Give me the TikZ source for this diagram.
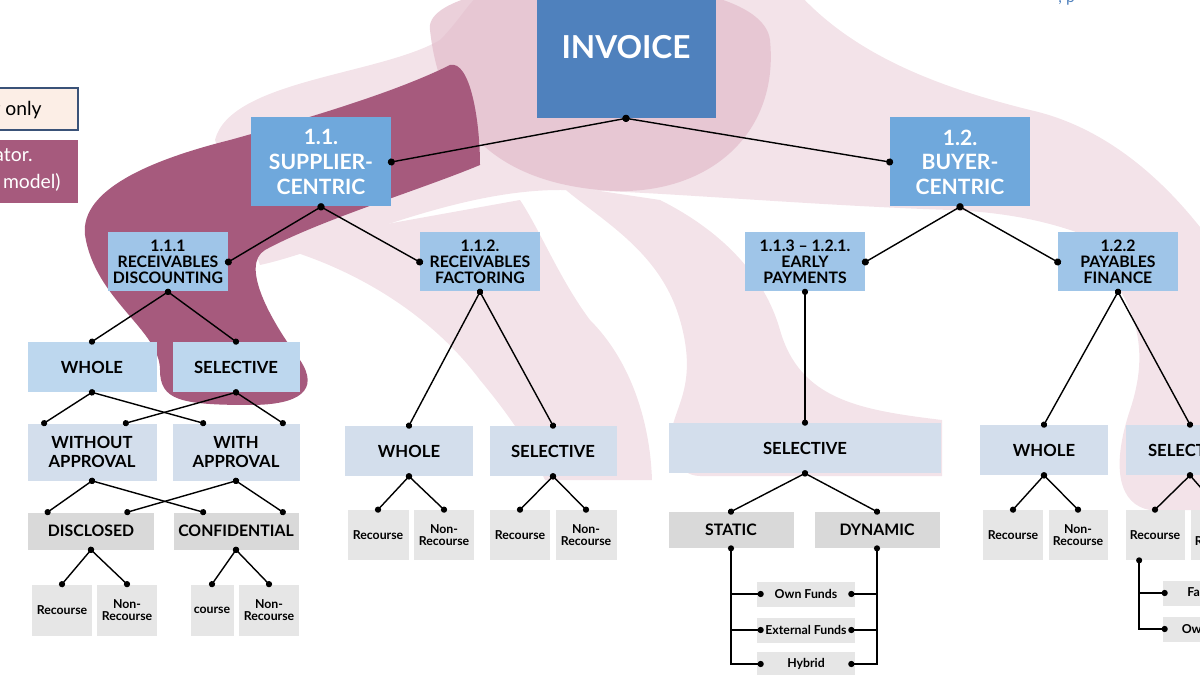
\documentclass[tikz,border=0pt]{standalone}
\usepackage{fontspec}
\setmainfont{Lato}
\usetikzlibrary{arrows.meta,calc}
\definecolor{invblue}{HTML}{4F81BD}
\definecolor{topblue}{HTML}{6FA8DC}
\definecolor{subblue}{HTML}{9FC5E8}
\definecolor{paleblue}{HTML}{BDD7EE}
\definecolor{greyblue}{HTML}{D3DEEC}
\definecolor{darkgrey}{HTML}{D9D9D9}
\definecolor{lightgrey}{HTML}{E6E6E6}
\definecolor{blobpink}{HTML}{F3E3E9}
\definecolor{rosepink}{HTML}{E2BCCB}
\definecolor{maroon}{HTML}{A65A7D}
\definecolor{legendbg}{HTML}{FCEEE6}
\definecolor{legendline}{HTML}{3A5278}
\newcommand{\boxfont}[1]{\fontsize{#1}{#1}\selectfont\bfseries}

\begin{document}
\begin{tikzpicture}[x = 0.02cm, y = -0.02cm,
	every node/.style = {inner sep = 0pt, align = center},
	box/.style 2 args = {minimum width = #1*0.02cm, minimum height = #2*0.02cm},
	main/.style = {fill = invblue, text = white, font = \boxfont{18}},
	centric/.style = {fill = topblue, text = white, font = \boxfont{12}},
	product/.style = {fill = subblue, font = \boxfont{9}},
	choice/.style = {fill = greyblue, font = \boxfont{9.5}},
	pchoice/.style = {fill = paleblue, font = \boxfont{9.5}},
	kind/.style = {fill = darkgrey, font = \boxfont{9}},
	leaf/.style = {fill = lightgrey, font = \boxfont{7}},
	link/.style = {thick, {Circle[length = 4pt]}-{Circle[length = 4pt]}, shorten <= -2pt, shorten >= -2pt},
	small/.style = {thick, {Circle[length = 3.5pt]}-{Circle[length = 3.5pt]}, shorten <= -1.75pt, shorten >= -1.75pt},
	half/.style = {thick, -{Circle[length = 3.5pt]}, shorten >= -1.75pt}]

	\useasboundingbox (0,0) rectangle (1200,675);
	\clip (0,0) rectangle (1200,675);

	% background blobs
	\fill[blobpink] (215,140) .. controls (230,80) and (380,75) .. (440,40) .. controls (460,20) and (470,0) .. (480,-5)
		-- (800,-5) .. controls (860,60) and (950,90) .. (1030,110) .. controls (1120,130) and (1180,200) .. (1210,240)
		-- (1210,320) .. controls (1150,260) and (1080,215) .. (950,210) .. controls (800,205) and (640,190) .. (560,190)
		.. controls (450,190) and (330,250) .. (260,265) -- cycle;
	\fill[blobpink] (270,245) .. controls (330,260) and (420,300) .. (480,380) .. controls (530,440) and (540,470) .. (545,480)
		-- (652,480) .. controls (650,420) and (630,360) .. (590,320) .. controls (560,280) and (540,230) .. (520,200) -- cycle;
	\fill[blobpink] (560,185) .. controls (600,220) and (660,250) .. (680,320) .. controls (700,390) and (670,410) .. (671,440)
		.. controls (672,470) and (690,476) .. (700,476) -- (942,476) -- (942,420) .. controls (860,410) and (800,400) .. (780,330)
		.. controls (760,260) and (700,220) .. (660,200) -- cycle;
	\fill[blobpink] (1080,240) .. controls (1140,300) and (1150,350) .. (1130,410) .. controls (1110,470) and (1120,505) .. (1150,510)
		-- (1210,510) -- (1210,240) -- cycle;
	\fill[rosepink, opacity = 0.7] (430,30) .. controls (420,-30) and (760,-40) .. (770,40) .. controls (780,140) and (700,200) .. (600,190)
		.. controls (490,180) and (440,120) .. (430,30) -- cycle;
	\fill[maroon] (85,235) .. controls (80,190) and (150,160) .. (230,140) .. controls (320,115) and (400,90) .. (450,65)
		.. controls (470,60) and (480,120) .. (480,165) .. controls (420,190) and (320,220) .. (265,250)
		.. controls (240,265) and (270,320) .. (300,360) .. controls (320,390) and (300,405) .. (250,405)
		.. controls (180,405) and (160,400) .. (160,370) .. controls (160,330) and (95,300) .. (85,235) -- cycle;

	% legend fragments
	\draw[legendline, line width = 1.5pt, fill = legendbg] (-20,88) rectangle (78,130);
	\node[anchor = east, font = \fontsize{11}{11}\selectfont] (lgA) at (42,110) {r only};
	\fill[maroon] (-20,140) rectangle (78,203);
	\node[anchor = east, text = white, font = \fontsize{11}{11}\selectfont] (lgB) at (33,155) {ator.};
	\node[anchor = east, text = white, font = \fontsize{11}{11}\selectfont] (lgC) at (61,182) {d model)};
	\node[anchor = west, text = invblue, font = \fontsize{9}{9}\selectfont] (ref) at (1058,0) {, p};

	% top levels
	\node[main, box = {179}{142}] (inv) at (626,47) {INVOICE};
	\node[centric, box = {140}{89}] (sc) at (321,162) {1.1.\\[2pt]SUPPLIER-\\[2pt]CENTRIC};
	\node[centric, box = {140}{89}] (bc) at (960,162) {1.2.\\[2pt]BUYER-\\[2pt]CENTRIC};
	\node[product, box = {120}{59}] (rd) at (168,262) {1.1.1\\RECEIVABLES\\DISCOUNTING};
	\node[product, box = {120}{59}] (rf) at (480,262) {1.1.2.\\RECEIVABLES\\FACTORING};
	\node[product, box = {120}{59}] (ep) at (805,262) {1.1.3 -- 1.2.1.\\EARLY\\PAYMENTS};
	\node[product, box = {120}{59}] (pf) at (1118,262) {1.2.2\\PAYABLES\\FINANCE};

	% discounting branch
	\node[pchoice, box = {129}{50}] (lw) at (92,367) {WHOLE};
	\node[pchoice, box = {127}{50}] (ls) at (236,367) {SELECTIVE};
	\node[choice, box = {129}{57}] (lwo) at (92,452) {WITHOUT\\[1pt]APPROVAL};
	\node[choice, box = {127}{57}] (lwi) at (236,452) {WITH\\[1pt]APPROVAL};
	\node[kind, box = {126}{37}] (ldi) at (91,531) {DISCLOSED};
	\node[kind, box = {125}{37}] (lco) at (236,531) {CONFIDENTIAL};
	\node[leaf, box = {60}{51}] (lr1) at (62,610) {Recourse};
	\node[leaf, box = {60}{51}] (lr2) at (127,610) {Non-\\Recourse};
	\node[leaf, box = {43}{51}] (lr3) at (212,610) {course};
	\node[leaf, box = {60}{51}] (lr4) at (269,610) {Non-\\Recourse};

	% factoring branch
	\node[choice, box = {128}{50}] (mw) at (409,451) {WHOLE};
	\node[choice, box = {127}{50}] (ms) at (553,451) {SELECTIVE};
	\node[leaf, box = {61}{50}] (mr1) at (378,535) {Recourse};
	\node[leaf, box = {60}{50}] (mr2) at (444,535) {Non-\\Recourse};
	\node[leaf, box = {60}{50}] (mr3) at (520,535) {Recourse};
	\node[leaf, box = {61}{50}] (mr4) at (586,535) {Non-\\Recourse};

	% early payments branch
	\node[choice, box = {272}{50}] (es) at (805,448) {SELECTIVE};
	\node[kind, box = {125}{36}] (est) at (731,530) {STATIC};
	\node[kind, box = {125}{36}] (edy) at (877,530) {DYNAMIC};
	\node[leaf, box = {98}{25}] (eo) at (806,594) {Own Funds};
	\node[leaf, box = {98}{25}] (ee) at (806,630) {External Funds};
	\node[leaf, box = {98}{25}] (eh) at (806,664) {Hybrid};

	% payables branch
	\node[choice, box = {128}{50}] (rw) at (1044,450) {WHOLE};
	\node[choice, box = {128}{50}] (rs) at (1190,450) {SELECTIVE};
	\node[leaf, box = {60}{50}] (rr1) at (1013,535) {Recourse};
	\node[leaf, box = {59}{50}] (rr2) at (1078,535) {Non-\\Recourse};
	\node[leaf, box = {59}{50}] (rr3) at (1155,535) {Recourse};
	\node[leaf, box = {59}{50}] (rr4) at (1220,535) {Non-\\Recourse};
	\node[leaf, box = {100}{25}] (rf1) at (1213,593) {Factoring};
	\node[leaf, box = {100}{25}] (rf2) at (1213,629) {Own Funds};

	% connectors
	\foreach \from/\to in {inv.south/sc.east, inv.south/bc.west, sc.south/rd.east, sc.south/rf.west,
		bc.south/ep.east, bc.south/pf.west}
		\draw[link] (\from) -- (\to);
	\foreach \from/\to in {ep.south/es.north, rd.south/lw.north, rd.south/ls.north, rf.south/mw.north, rf.south/ms.north,
		pf.south/rw.north, pf.south/rs.north, es.south/est.north, es.south/edy.north,
		ldi.south/lr1.north, ldi.south/lr2.north, lco.south/lr3.north, lco.south/lr4.north,
		mw.south/mr1.north, mw.south/mr2.north, ms.south/mr3.north, ms.south/mr4.north,
		rw.south/rr1.north, rw.south/rr2.north, rs.south/rr3.north, rs.south/rr4.north}
		\draw[small] (\from) -- (\to);

	% crossing links
	\draw[small] (lw.south) -- ($(lwo.north west)+(17,0)$);
	\draw[small] (lw.south) -- ($(lwi.north west)+(31,0)$);
	\draw[small] (ls.south) -- ($(lwo.north east)+(-31,0)$);
	\draw[small] (ls.south) -- ($(lwi.north east)+(-17,0)$);
	\draw[small] (lwo.south) -- ($(ldi.north west)+(20,0)$);
	\draw[small] (lwo.south) -- ($(lco.north west)+(30,0)$);
	\draw[small] (lwi.south) -- ($(ldi.north east)+(-27,0)$);
	\draw[small] (lwi.south) -- ($(lco.north east)+(-16,0)$);

	% fund ladders
	\foreach \to in {eo, ee, eh}
		\draw[half] (est.south) |- ($(\to.west)+(4,0)$);
	\foreach \to in {eo, ee, eh}
		\draw[half] (edy.south) |- ($(\to.east)+(-4,0)$);
	\fill (est.south) circle (1.75pt) (edy.south) circle (1.75pt);
	\coordinate (rrfoot) at ($(rr3.south west)+(14,0)$);
	\fill (rrfoot) circle (1.75pt);
	\foreach \to in {rf1, rf2}
		\draw[half] (rrfoot) |- ($(\to.west)+(2,0)$);

\end{tikzpicture}
\end{document}
